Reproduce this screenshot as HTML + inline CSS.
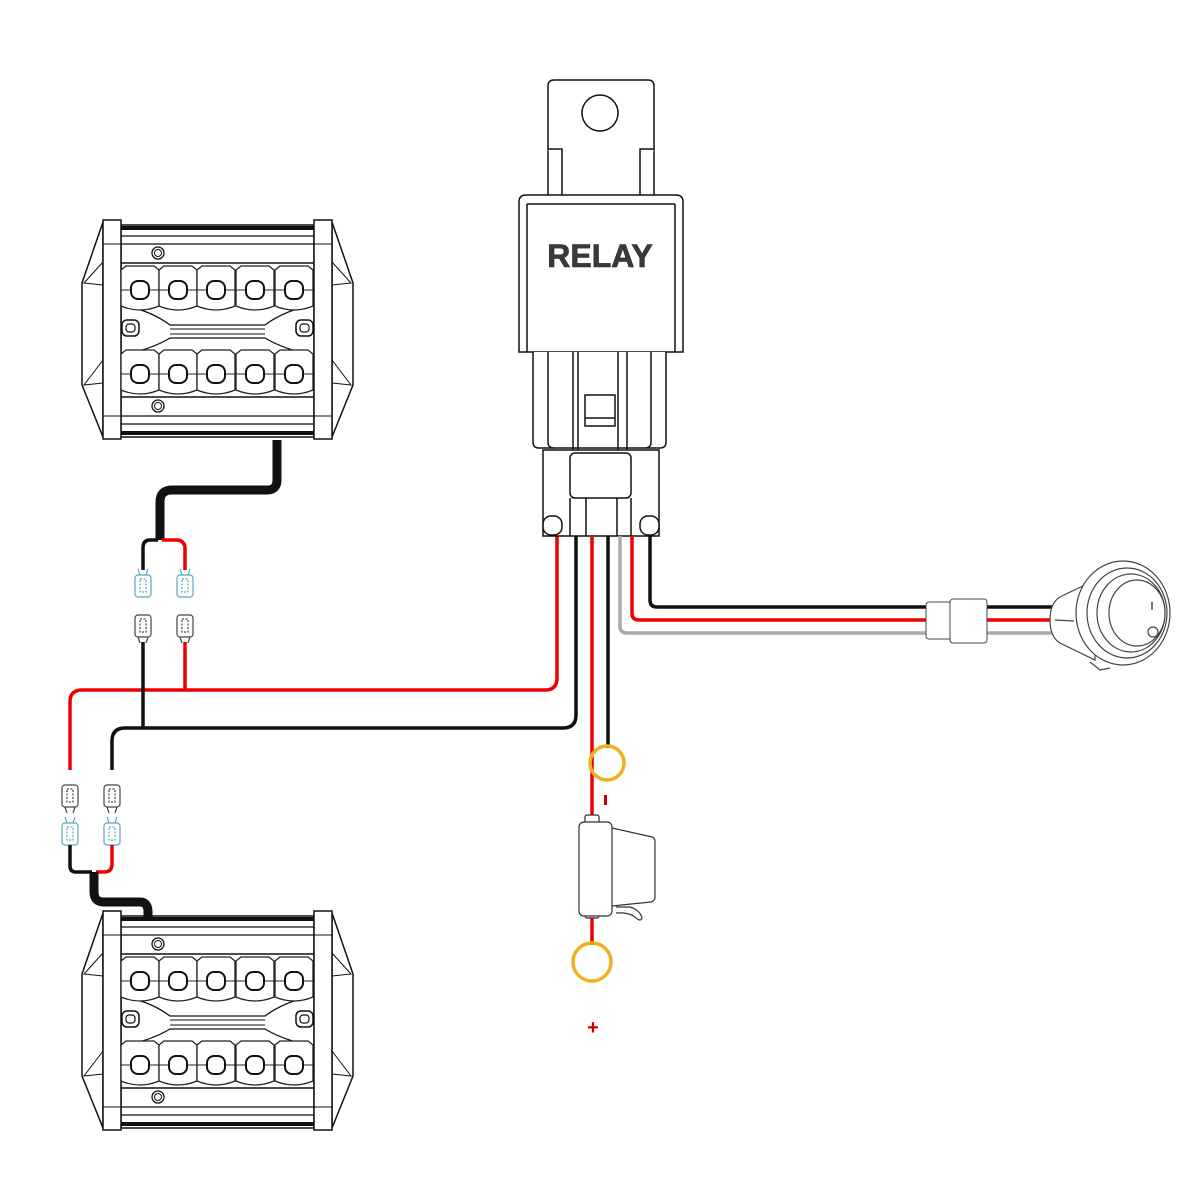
<!DOCTYPE html>
<html><head><meta charset="utf-8"><style>
html,body{margin:0;padding:0;background:#fff;}
svg{display:block;}
</style></head><body>
<svg width="1200" height="1200" viewBox="0 0 1200 1200" xmlns="http://www.w3.org/2000/svg">
<defs>
<g id="led">
  <path d="M-19,-20 L-14,-24 L14,-24 L19,-20 L19,16 Q0,24 -19,16 Z" fill="#fff" stroke="#222" stroke-width="1.3"/>
  <line x1="-19" y1="0" x2="19" y2="0" stroke="#222" stroke-width="1"/>
  <rect x="-9" y="-9" width="18" height="18" rx="7" fill="#fff" stroke="#111" stroke-width="2"/>
</g>
<g id="light" fill="none" stroke="#111">
  <polygon points="103,222 82,283 82,385 103,437" fill="#fff" stroke-width="1.5"/>
  <polyline points="103,262 84,283 103,285" stroke-width="1"/>
  <polyline points="103,360 84,385 103,383" stroke-width="1"/>
  <polygon points="332,222 353,283 353,385 332,437" fill="#fff" stroke-width="1.5"/>
  <polyline points="332,262 351,283 332,285" stroke-width="1"/>
  <polyline points="332,360 351,385 332,383" stroke-width="1"/>
  <rect x="121" y="225" width="193" height="212" fill="#fff" stroke-width="1.5"/>
  <line x1="121" y1="228" x2="314" y2="228" stroke-width="4"/>
  <line x1="121" y1="236" x2="314" y2="236" stroke-width="1.2"/>
  <line x1="121" y1="244" x2="314" y2="244" stroke-width="1.2"/>
  <line x1="121" y1="263" x2="314" y2="263" stroke-width="1.5"/>
  <circle cx="158" cy="253" r="6" stroke-width="1.3"/><circle cx="158" cy="253" r="3.5" stroke-width="1"/>
  <line x1="121" y1="397" x2="314" y2="397" stroke-width="1.5"/>
  <line x1="121" y1="416" x2="314" y2="416" stroke-width="1.2"/>
  <line x1="121" y1="424" x2="314" y2="424" stroke-width="1.2"/>
  <line x1="121" y1="433" x2="314" y2="433" stroke-width="4"/>
  <circle cx="158" cy="406" r="6" stroke-width="1.3"/><circle cx="158" cy="406" r="3.5" stroke-width="1"/>
  <path d="M121,305 Q150,310 170,325 L265,325 Q285,310 314,305" stroke-width="1.3"/>
  <path d="M121,355 Q150,350 170,338 L265,338 Q285,350 314,355" stroke-width="1.3"/>
  <line x1="170" y1="329" x2="265" y2="329" stroke-width="1"/>
  <line x1="170" y1="334" x2="265" y2="334" stroke-width="1"/>
  <rect x="122" y="320" width="17" height="16" rx="5" stroke-width="1.5"/><rect x="126" y="324" width="9" height="8" rx="3" stroke-width="1.2"/>
  <rect x="296" y="320" width="17" height="16" rx="5" stroke-width="1.5"/><rect x="300" y="324" width="9" height="8" rx="3" stroke-width="1.2"/>
  <rect x="103" y="220" width="18" height="219" fill="#fff" stroke-width="1.5"/>
  <rect x="314" y="220" width="18" height="219" fill="#fff" stroke-width="1.5"/>
  <line x1="103" y1="244" x2="121" y2="244" stroke-width="1"/>
  <line x1="103" y1="416" x2="121" y2="416" stroke-width="1"/>
  <line x1="314" y1="244" x2="332" y2="244" stroke-width="1"/>
  <line x1="314" y1="416" x2="332" y2="416" stroke-width="1"/>
  <use href="#led" x="140" y="290"/><use href="#led" x="178" y="290"/><use href="#led" x="216" y="290"/><use href="#led" x="255" y="290"/><use href="#led" x="294" y="290"/>
  <use href="#led" x="140" y="374"/><use href="#led" x="178" y="374"/><use href="#led" x="216" y="374"/><use href="#led" x="255" y="374"/><use href="#led" x="294" y="374"/>
</g>
<g id="connB" fill="#fff" stroke="#5aa8b8" stroke-width="1.2">
  <path d="M-5,-13 L-3,-7 M5,-13 L3,-7"/>
  <rect x="-8" y="-7" width="16" height="22" rx="3"/>
  <rect x="-3" y="-3" width="6" height="13" stroke-dasharray="2,1.5"/>
</g>
<g id="connG" fill="#fff" stroke="#444" stroke-width="1.2">
  <rect x="-8" y="-13" width="16" height="22" rx="3"/>
  <rect x="-3" y="-9" width="6" height="13" stroke-dasharray="2,1.5"/>
  <path d="M-5,9 L-3,15 M5,9 L3,15"/>
</g>
</defs>

<use href="#light"/>
<use href="#light" y="691"/>

<path d="M277,440 L277,480 Q277,490 267,490 L172,490 Q160,490 160,502 L160,540" fill="none" stroke="#111" stroke-width="9"/>
<path d="M158,540 L150,540 Q143,540 143,548 L143,570" fill="none" stroke="#111" stroke-width="3.5"/>
<path d="M162,540 L176,540 Q185,540 185,549 L185,570" fill="none" stroke="#e00" stroke-width="3.5"/>
<use href="#connB" x="143" y="582"/>
<use href="#connB" x="185" y="582"/>
<use href="#connG" x="143" y="628"/>
<use href="#connG" x="185" y="628"/>

<path d="M557,535 L557,678 Q557,690 545,690 L82,690 Q70,690 70,702 L70,770" fill="none" stroke="#e00" stroke-width="3.5"/>
<path d="M185,642 L185,690" fill="none" stroke="#e00" stroke-width="3.5"/>
<path d="M576,535 L576,715 Q576,728 563,728 L125,728 Q112,728 112,741 L112,770" fill="none" stroke="#111" stroke-width="3.5"/>
<path d="M143,642 L143,728" fill="none" stroke="#111" stroke-width="3.5"/>
<use href="#connG" x="70" y="798"/>
<use href="#connG" x="112" y="798"/>
<use href="#connB" x="70" y="830"/>
<use href="#connB" x="112" y="830"/>
<path d="M70,845 L70,866 Q70,872 76,872 L92,872" fill="none" stroke="#111" stroke-width="3.5"/>
<path d="M112,845 L112,864 Q112,872 104,872 L96,872" fill="none" stroke="#e00" stroke-width="3.5"/>
<path d="M94,872 L94,892 Q94,902 104,902 L140,902 Q148,902 148,912 L148,918" fill="none" stroke="#111" stroke-width="9"/>

<g fill="#fff" stroke="#111" stroke-width="1.5">
  <path d="M548,195 L548,86 Q548,80 554,80 L648,80 Q654,80 654,86 L654,195"/>
  <polyline points="548,149 562,149 562,195"/>
  <polyline points="654,149 640,149 640,195"/>
  <circle cx="600" cy="113" r="18"/>
  <path d="M519,202 Q519,195 526,195 L676,195 Q683,195 683,202 L683,352 L519,352 Z"/>
  <line x1="527" y1="204" x2="527" y2="352"/><line x1="675" y1="204" x2="675" y2="352"/>
  <line x1="527" y1="204" x2="675" y2="204"/>
  <path d="M533,352 L533,442 Q533,448 539,448 L660,448 Q666,448 666,442 L666,352"/>
  <path d="M548,352 L548,442 Q548,448 554,448"/>
  <path d="M651,352 L651,442 Q651,448 645,448"/>
  <line x1="573" y1="352" x2="573" y2="450"/><line x1="578" y1="352" x2="578" y2="450"/>
  <line x1="618" y1="352" x2="618" y2="450"/><line x1="627" y1="352" x2="627" y2="450"/>
  <rect x="585" y="395" width="30" height="31"/>
  <line x1="585" y1="418" x2="615" y2="418"/>
  <rect x="543" y="450" width="116" height="86"/>
  <rect x="570" y="453" width="61" height="45" rx="5"/>
  <line x1="570" y1="498" x2="570" y2="536"/><line x1="586" y1="498" x2="586" y2="536"/>
  <line x1="617" y1="498" x2="617" y2="536"/><line x1="631" y1="498" x2="631" y2="536"/>
  <rect x="543" y="516" width="19" height="19" rx="8"/>
  <rect x="640" y="516" width="19" height="19" rx="8"/>
</g>
<text x="600" y="267" text-anchor="middle" font-family="Liberation Sans, sans-serif" font-weight="bold" font-size="32" fill="#3a3a3a" stroke="#222" stroke-width="0.6">RELAY</text>

<path d="M592,536 L592,822" stroke="#e00" stroke-width="3.5"/>
<path d="M608,536 L608,748" stroke="#111" stroke-width="3.5"/>
<path d="M592,912 L592,945" stroke="#e00" stroke-width="3.5"/>
<circle cx="607" cy="763" r="17" fill="none" stroke="#f0b020" stroke-width="3.5"/>
<circle cx="592" cy="962" r="19" fill="none" stroke="#f0b020" stroke-width="3.5"/>
<rect x="604" y="795" width="3" height="10" fill="#c00"/>
<text x="593" y="1034" text-anchor="middle" font-family="Liberation Sans, sans-serif" font-weight="bold" font-size="20" fill="#c00">+</text>
<g fill="#fff" stroke="#333" stroke-width="1.2">
  <rect x="585" y="815" width="14" height="8" rx="2"/>
  <rect x="585" y="911" width="14" height="7" rx="2"/>
  <path d="M612,828 L652,837 Q655,838 655,842 L655,897 Q655,901 651,902 L612,906"/>
  <path d="M616,907 L630,907 Q640,910 642,918 Q641,922 636,918 Q630,912 616,913"/>
  <rect x="579" y="822" width="33" height="94" rx="5"/>
</g>

<path d="M650,536 L650,600 Q650,607 657,607 L930,607" fill="none" stroke="#111" stroke-width="3.5"/>
<path d="M632,536 L632,613 Q632,620 639,620 L930,620" fill="none" stroke="#e00" stroke-width="3.5"/>
<path d="M620,536 L620,626 Q620,633 627,633 L930,633" fill="none" stroke="#aaa" stroke-width="3.5"/>
<path d="M985,607 L1055,607" stroke="#111" stroke-width="3.5"/>
<path d="M985,620 L1055,620" stroke="#e00" stroke-width="3.5"/>
<path d="M985,633 L1055,633" stroke="#aaa" stroke-width="3.5"/>
<g fill="#fff" stroke="#444" stroke-width="1">
  <rect x="926" y="602" width="26" height="37" rx="3"/>
  <rect x="950" y="599" width="37" height="44" rx="3"/>
</g>
<g fill="#fff" stroke="#444" stroke-width="1.2">
  <path d="M1095,580 L1060,597 Q1050,603 1050,620 Q1050,637 1060,643 L1095,660 Z"/>
  <path d="M1090,578 L1100,570 L1110,572 M1090,662 L1100,670 L1110,668"/>
  <ellipse cx="1123" cy="613" rx="47" ry="52"/>
  <ellipse cx="1127" cy="613" rx="40" ry="45"/>
  <ellipse cx="1131" cy="613" rx="34" ry="39"/>
  <ellipse cx="1137" cy="613" rx="28" ry="33"/>
  <line x1="1055" y1="620" x2="1074" y2="621"/>
  <line x1="1152" y1="602" x2="1152" y2="610" stroke-width="1.5"/>
  <circle cx="1153" cy="632" r="5"/>
</g>
</svg>
</body></html>
